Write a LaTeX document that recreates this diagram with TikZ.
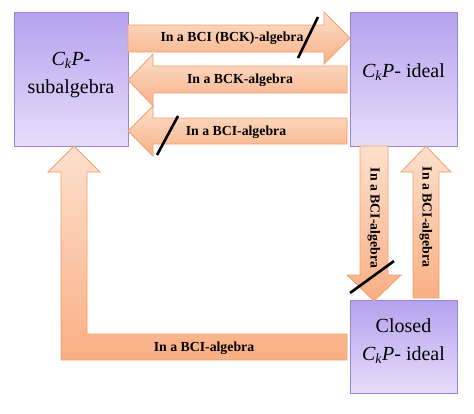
\documentclass[tikz,border=0pt]{standalone}
\usepackage{fontspec}
\setmainfont{Liberation Serif}
\definecolor{arrtop}{HTML}{FDE0CC}
\definecolor{arrbot}{HTML}{F8AF84}
\definecolor{arrline}{HTML}{F3A06C}
\definecolor{boxtop}{HTML}{B5A1EE}
\definecolor{boxbot}{HTML}{E6DDFA}
\definecolor{boxline}{HTML}{9A85DA}
\newcommand{\CkP}{{\itshape C}\textsubscript{\itshape k}{\itshape P}}
\begin{document}
\begin{tikzpicture}[x=1pt,y=-1pt,
  blockarrow/.style={top color=arrtop,bottom color=arrbot,draw=arrline,line width=0.8pt,line join=miter},
  concept/.style={top color=boxtop,bottom color=boxbot,draw=boxline,line width=0.8pt},
  boxtext/.style={font=\fontsize{20}{28}\selectfont,align=center,inner sep=0pt},
  lbl/.style={font=\fontsize{13.8}{16}\selectfont\bfseries,inner sep=0pt},
  negation/.style={line width=2.6pt,black}]
\useasboundingbox (0,0) rectangle (474,413);
% boxes
\shadedraw[concept] (14,12) rectangle (128,146);
\shadedraw[concept] (350,12) rectangle (457,146);
\shadedraw[concept] (350,300) rectangle (457,393);
\node[boxtext] (sub) at (71,75) {\CkP-\\subalgebra};
\node[boxtext] (ideal) at (403.5,72) {\CkP- ideal};
\node[boxtext] (closed) at (403.5,341) {Closed\\\CkP- ideal};
% arrow 1: sub -> ideal
\shadedraw[blockarrow] (128,25) -- (324,25) -- (324,12) -- (350,38) -- (324,64) -- (324,52) -- (128,52) -- cycle;
\node[lbl] (l1) at (232,38) {In a BCI (BCK)-algebra};
% arrow 2: ideal -> sub
\shadedraw[blockarrow] (347,66) -- (153,66) -- (153,54) -- (128,80) -- (153,106) -- (153,93) -- (347,93) -- cycle;
\node[lbl] (l2) at (240,80) {In a BCK-algebra};
% arrow 3: ideal -> sub
\shadedraw[blockarrow] (347,118) -- (153,118) -- (153,106) -- (128,131) -- (153,156) -- (153,144) -- (347,144) -- cycle;
\node[lbl] (l3) at (236,132) {In a BCI-algebra};
% down arrow: ideal -> closed
\shadedraw[blockarrow] (360,146) -- (388,146) -- (388,275) -- (401,275) -- (374,301) -- (347,275) -- (360,275) -- cycle;
\node[lbl,rotate=-90] (l4) at (374,218) {In a BCI-algebra};
% up arrow: closed -> ideal
\shadedraw[blockarrow] (413,298) -- (413,172) -- (401,172) -- (426,146) -- (451,172) -- (439,172) -- (439,298) -- cycle;
\node[lbl,rotate=-90] (l5) at (426,217) {In a BCI-algebra};
% L arrow: closed -> sub
\shadedraw[blockarrow] (347,334) -- (87,334) -- (87,172) -- (100,172) -- (74,146) -- (48,172) -- (61,172) -- (61,360) -- (347,360) -- cycle;
\node[lbl] (l6) at (204,348) {In a BCI-algebra};
% negation slashes
\draw[negation] (298,58) -- (318,17);
\draw[negation] (157,155) -- (178,116);
\draw[negation] (350,293) -- (394,261);
\end{tikzpicture}
\end{document}
